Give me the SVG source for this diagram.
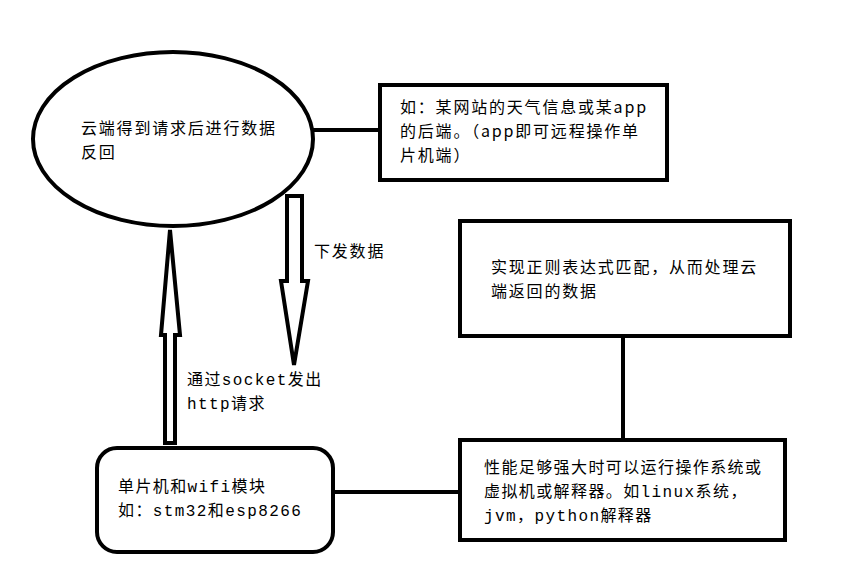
<svg xmlns="http://www.w3.org/2000/svg" width="847" height="575" viewBox="0 0 847 575">
<style>
.s{fill:none;stroke:#000;stroke-width:4}
.t{font-family:"Noto Sans CJK SC",sans-serif;font-size:16px;letter-spacing:1.8px;fill:#000}
.m{font-family:"Liberation Mono","Noto Sans CJK SC",monospace;font-size:16px;letter-spacing:1.4px;fill:#000}
</style>
<rect width="847" height="575" fill="#fff"/>
<g id="connectors">
<line class="s" x1="313" y1="130" x2="380" y2="130"/>
<line class="s" x1="623" y1="336" x2="623" y2="440"/>
<line class="s" x1="333" y1="492" x2="460" y2="492"/>
<polygon class="s" points="165,443 175,443 175,335 180,335 170,230 161,335 165,335"/>
<polygon class="s" points="287,196 302,196 302,281 308,281 294,365 281,281 287,281"/>
<text class="t" x="314" y="257">下发数据</text>
<text class="m" x="187" y="385">通过socket发出</text>
<text class="m" x="187" y="409">http请求</text>
</g>
<g id="cloud">
<ellipse class="s" cx="173" cy="139" rx="140" ry="87"/>
<text class="t" x="81" y="134">云端得到请求后进行数据</text>
<text class="t" x="81" y="158">反回</text>
</g>
<g id="backend">
<rect class="s" x="380" y="85" width="287" height="95"/>
<text class="t" x="400" y="113">如：某网站的天气信息或某app</text>
<text class="t" x="400" y="137">的后端。（app即可远程操作单</text>
<text class="t" x="400" y="161">片机端）</text>
</g>
<g id="regex">
<rect class="s" x="460" y="221" width="330" height="115"/>
<text class="t" x="491" y="273">实现正则表达式匹配，从而处理云</text>
<text class="t" x="491" y="297">端返回的数据</text>
</g>
<g id="mcu">
<rect class="s" x="97" y="448" width="236" height="104" rx="20"/>
<text class="m" x="118" y="492">单片机和wifi模块</text>
<text class="m" x="118" y="516">如：stm32和esp8266</text>
</g>
<g id="perf">
<rect class="s" x="460" y="440" width="325" height="100"/>
<text class="m" x="484" y="473">性能足够强大时可以运行操作系统或</text>
<text class="m" x="484" y="497">虚拟机或解释器。如linux系统，</text>
<text class="m" x="484" y="521">jvm，python解释器</text>
</g>
</svg>
